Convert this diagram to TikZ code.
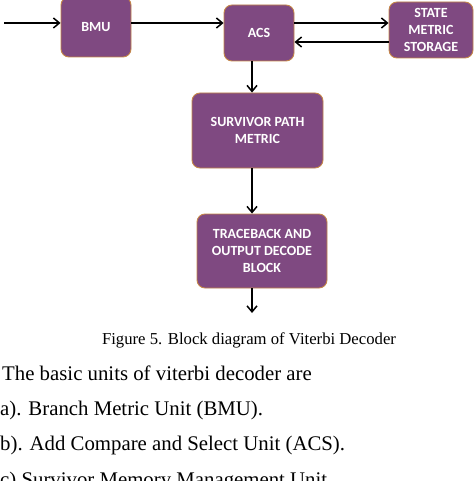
\documentclass[tikz,border=0pt]{standalone}
\usepackage{fontspec}
\setmainfont{Liberation Serif}
\newfontfamily\blockfont{Carlito}
\usepackage{tikz}
\usetikzlibrary{
    positioning,
    arrows.meta
}
\definecolor{blockfill}{RGB}{127,73,129}
\definecolor{blockedge}{RGB}{196,134,72}
\tikzset{
    >={Straight Barb[length=6pt,width=10pt,line width=1.5pt]},
    block/.style={
        draw=blockedge,
        line width=0.9pt,
        fill=blockfill,
        rounded corners=8pt,
        text=white,
        align=center,
        inner sep=0pt,
        font=\blockfont\bfseries\fontsize{14}{17}\selectfont
    },
    link/.style={
        ->,
        line width=1.5pt
    },
    bodytext/.style={
        font=\fontsize{20.8}{25}\selectfont,
        anchor=base west,
        inner sep=0pt
    }
}

\begin{document}
\begin{tikzpicture}[
    x=1pt,
    y=-1pt
]
    \useasboundingbox (0,0) rectangle (474,481);
    \clip (0,0) rectangle (474,481);

    % Bloques
    \node[block, minimum width=70pt, minimum height=60pt]  (bmu) at (96,27)    {BMU};
    \node[block, minimum width=70pt, minimum height=56pt]  (acs) at (259,33)   {ACS};
    \node[block, minimum width=84pt, minimum height=56pt]  (sms) at (431,30)   {STATE\\METRIC\\STORAGE};
    \node[block, minimum width=131pt, minimum height=75pt] (spm) at (257.5,130.5) {SURVIVOR PATH\\METRIC};
    \node[block, minimum width=130pt, minimum height=74pt] (tb)  at (262,251)  {TRACEBACK AND\\OUTPUT DECODE\\BLOCK};

    % Puntos auxiliares
    \coordinate (in)  at (4,23);
    \coordinate (back) at (0,42);
    \coordinate (col) at (252,0);
    \coordinate (out) at (252,313);

    % Conexiones
    \draw[link] (in) -- (in -| bmu.west);
    \draw[link] (bmu.east |- in) -- (acs.west |- in);
    \draw[link] (acs.east |- in) -- (sms.west |- in);
    \draw[link] (sms.west |- back) -- (acs.east |- back);
    \draw[link] (acs.south -| col) -- (spm.north -| col);
    \draw[link] (spm.south -| col) -- (tb.north -| col);
    \draw[link] (tb.south -| col) -- (out);

    % Texto
    \node[font=\fontsize{16.7}{20}\selectfont, anchor=base] (caption) at (249,344) {Figure 5. Block diagram of Viterbi Decoder};
    \node[bodytext] (intro) at (2,380) {The basic units of viterbi decoder are};
    \node[bodytext] (itema) at (0,415) {a). Branch Metric Unit (BMU).};
    \node[bodytext] (itemb) at (0,450) {b). Add Compare and Select Unit (ACS).};
    \node[bodytext] (itemc) at (0,486) {c) Survivor Memory Management Unit};

\end{tikzpicture}
\end{document}
